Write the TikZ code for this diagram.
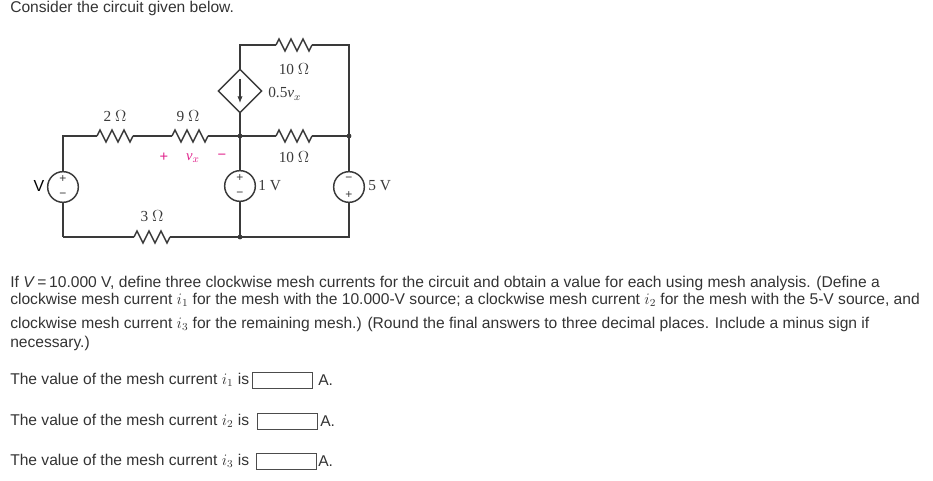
\documentclass[tikz,border=0pt]{standalone}
\usepackage{fontspec}
\usetikzlibrary{shapes.geometric,arrows.meta}
\setmainfont{Liberation Sans}
\newfontfamily\serifc{Liberation Serif}
\definecolor{txt}{HTML}{333333}
\definecolor{mag}{HTML}{E0208A}
\definecolor{wire}{HTML}{3A3A3A}
\tikzset{
  wirestyle/.style={draw=wire, line width=1.1pt},
  body/.style={anchor=west, inner sep=0pt, text=txt, font=\fontsize{11.7}{14}\selectfont},
  clab/.style={inner sep=0pt, text=wire, font=\serifc\fontsize{11.5}{13}\selectfont},
  pm/.style={inner sep=0pt, text=wire, font=\fontsize{9}{10}\selectfont},
  srcstyle/.style={circle, draw=wire, line width=1.1pt, minimum size=23pt, inner sep=0pt, fill=white},
  ansbox/.style={draw=black!70, line width=0.6pt, minimum width=45pt, minimum height=12pt, inner sep=0pt, anchor=west}
}
\newcommand{\hres}[2]{\fill[white] (#1-18,#2-7) rectangle (#1+18,#2+7);
  \draw[wirestyle] (#1-18,#2) -- ++(3,-6) -- ++(6,12) -- ++(6,-12) -- ++(6,12) -- ++(6,-12) -- ++(6,12) -- ++(3,-6);}
\begin{document}
\begin{tikzpicture}[x=0.75pt,y=-0.75pt]
\useasboundingbox (0,0) rectangle (933,481);
% circuit wires
\coordinate (tl) at (63,136); \coordinate (bl) at (63,237);
\coordinate (mt) at (240,136); \coordinate (mb) at (240,237);
\coordinate (rt) at (349,136); \coordinate (rb) at (349,237);
\coordinate (dt) at (240,45); \coordinate (rtt) at (349,45);
\draw[wirestyle] (bl) -- (tl) -- (mt) -- (rt) -- (rb) -- (bl);
\draw[wirestyle] (mt) -- (dt) -- (rtt) -- (rt);
\draw[wirestyle] (mt) -- (mb);
\fill[wire] (mt) circle (2.4) (rt) circle (2.4) (mb) circle (2.4);
% resistors
\hres{115}{136}
\hres{190}{136}
\hres{294}{136}
\hres{294}{45}
\hres{152}{237}
% dependent source
\node[diamond, draw=wire, line width=1.1pt, fill=white, minimum size=33pt, inner sep=0pt] (dep) at (240,91) {};
\draw[wire, line width=0.8pt, -{Latex[length=5pt,width=4pt]}] (240,79) -- (240,103);
% sources
\node[srcstyle] (sv) at (63,187) {};
\node[pm] at (63,179) {+};
\node[pm] at (63,195) {\textminus};
\node[srcstyle] (s1) at (240,186) {};
\node[pm] at (240,178) {+};
\node[pm] at (240,194) {\textminus};
\node[srcstyle] (s5) at (349,187) {};
\node[pm] at (349,179) {\textminus};
\node[pm] at (349,195) {+};
% circuit labels
\node[clab] at (115,116) {2 $\Omega$};
\node[clab] at (188,116) {9 $\Omega$};
\node[clab] at (294,69) {10 $\Omega$};
\node[clab, anchor=west] at (268,94) {0.5\textit{v}$_x$};
\node[clab] at (294,157) {10 $\Omega$};
\node[clab, anchor=west] at (258,186) {1 V};
\node[clab, anchor=west] at (368,186) {5 V};
\node[inner sep=0pt, text=black, font=\fontsize{12}{13}\selectfont] at (39,186) {V};
\node[inner sep=0pt, text=mag, font=\fontsize{11}{12}\selectfont] at (164,157) {+};
\node[inner sep=0pt, text=mag, font=\serifc\fontsize{11}{12}\selectfont] at (193,158) {\textit{v}$_x$};
\node[inner sep=0pt, text=mag, font=\fontsize{11}{12}\selectfont] at (222,157) {\textminus};
\node[clab] at (152,216) {3 $\Omega$};
% text
\node[body] (t0) at (10,8) {Consider the circuit given below.};
\node[body] (p1) at (10,283) {If \textit{V}\,=\,10.000 V, define three clockwise mesh currents for the circuit and obtain a value for each using mesh analysis. (Define a};
\node[body] (p2) at (10,300) {clockwise mesh current $i_1$ for the mesh with the 10.000-V source; a clockwise mesh current $i_2$ for the mesh with the 5-V source, and};
\node[body] (p3) at (10,324) {clockwise mesh current $i_3$ for the remaining mesh.) (Round the final answers to three decimal places. Include a minus sign if};
\node[body] (p4) at (10,343) {necessary.)};
\node[body] (a1) at (10,380) {The value of the mesh current $i_1$ is};
\node[ansbox] (b1) at (252,380) {};
\node[body] at (318,380) {A.};
\node[body] (a2) at (10,421) {The value of the mesh current $i_2$ is};
\node[ansbox] (b2) at (257,421) {};
\node[body] at (320,421) {A.};
\node[body] (a3) at (10,461) {The value of the mesh current $i_3$ is};
\node[ansbox] (b3) at (256,461) {};
\node[body] at (318,461) {A.};
\end{tikzpicture}
\end{document}
